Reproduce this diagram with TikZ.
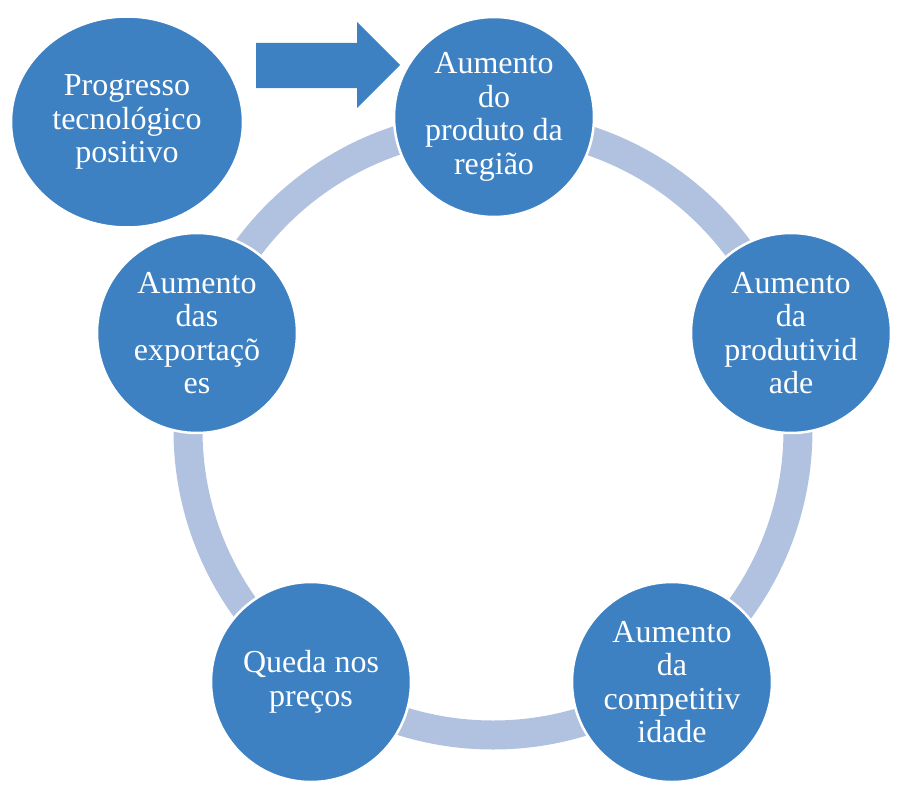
\documentclass[tikz,border=0pt]{standalone}
\usepackage{fontspec}
\setmainfont{Liberation Serif}
\usetikzlibrary{shapes.geometric}
\definecolor{cblue}{RGB}{62,129,194}
\definecolor{rblue}{RGB}{176,194,224}
\tikzset{
  bubble/.style={circle, fill=cblue, draw=white, line width=2.5pt, minimum size=200pt, inner sep=0pt,
    text=white, align=center, font=\fontsize{32}{33.5}\selectfont},
  oval/.style={ellipse, fill=cblue, draw=white, line width=2.5pt, minimum width=232pt, minimum height=211pt, inner sep=0pt,
    text=white, align=center, font=\fontsize{32}{33.5}\selectfont},
  ring/.style={draw=rblue, line width=29pt},
  blockarrow/.style={fill=cblue}
}
\begin{document}
\begin{tikzpicture}[x=1pt,y=-1pt]
\useasboundingbox (0,0) rectangle (913,800);
% ring
\coordinate (rc) at (493,430);
\draw[ring] (rc) circle[radius=305];
% block arrow
\fill[blockarrow] (256,43) -- (357,43) -- (357,22) -- (400,65) -- (357,108) -- (357,88) -- (256,88) -- cycle;
% nodes
\node[oval] (prog) at (127,122) {Progresso\\tecnológico\\positivo};
\node[bubble] (prod) at (494,117) {Aumento\\do\\produto da\\região};
\node[bubble] (produt) at (791,333) {Aumento\\da\\produtivid\\ade};
\node[bubble] (comp) at (672,682) {Aumento\\da\\competitiv\\idade};
\node[bubble] (queda) at (311,682) {Queda nos\\preços};
\node[bubble] (exp) at (197,333) {Aumento\\das\\exportaçõ\\es};
\end{tikzpicture}
\end{document}
